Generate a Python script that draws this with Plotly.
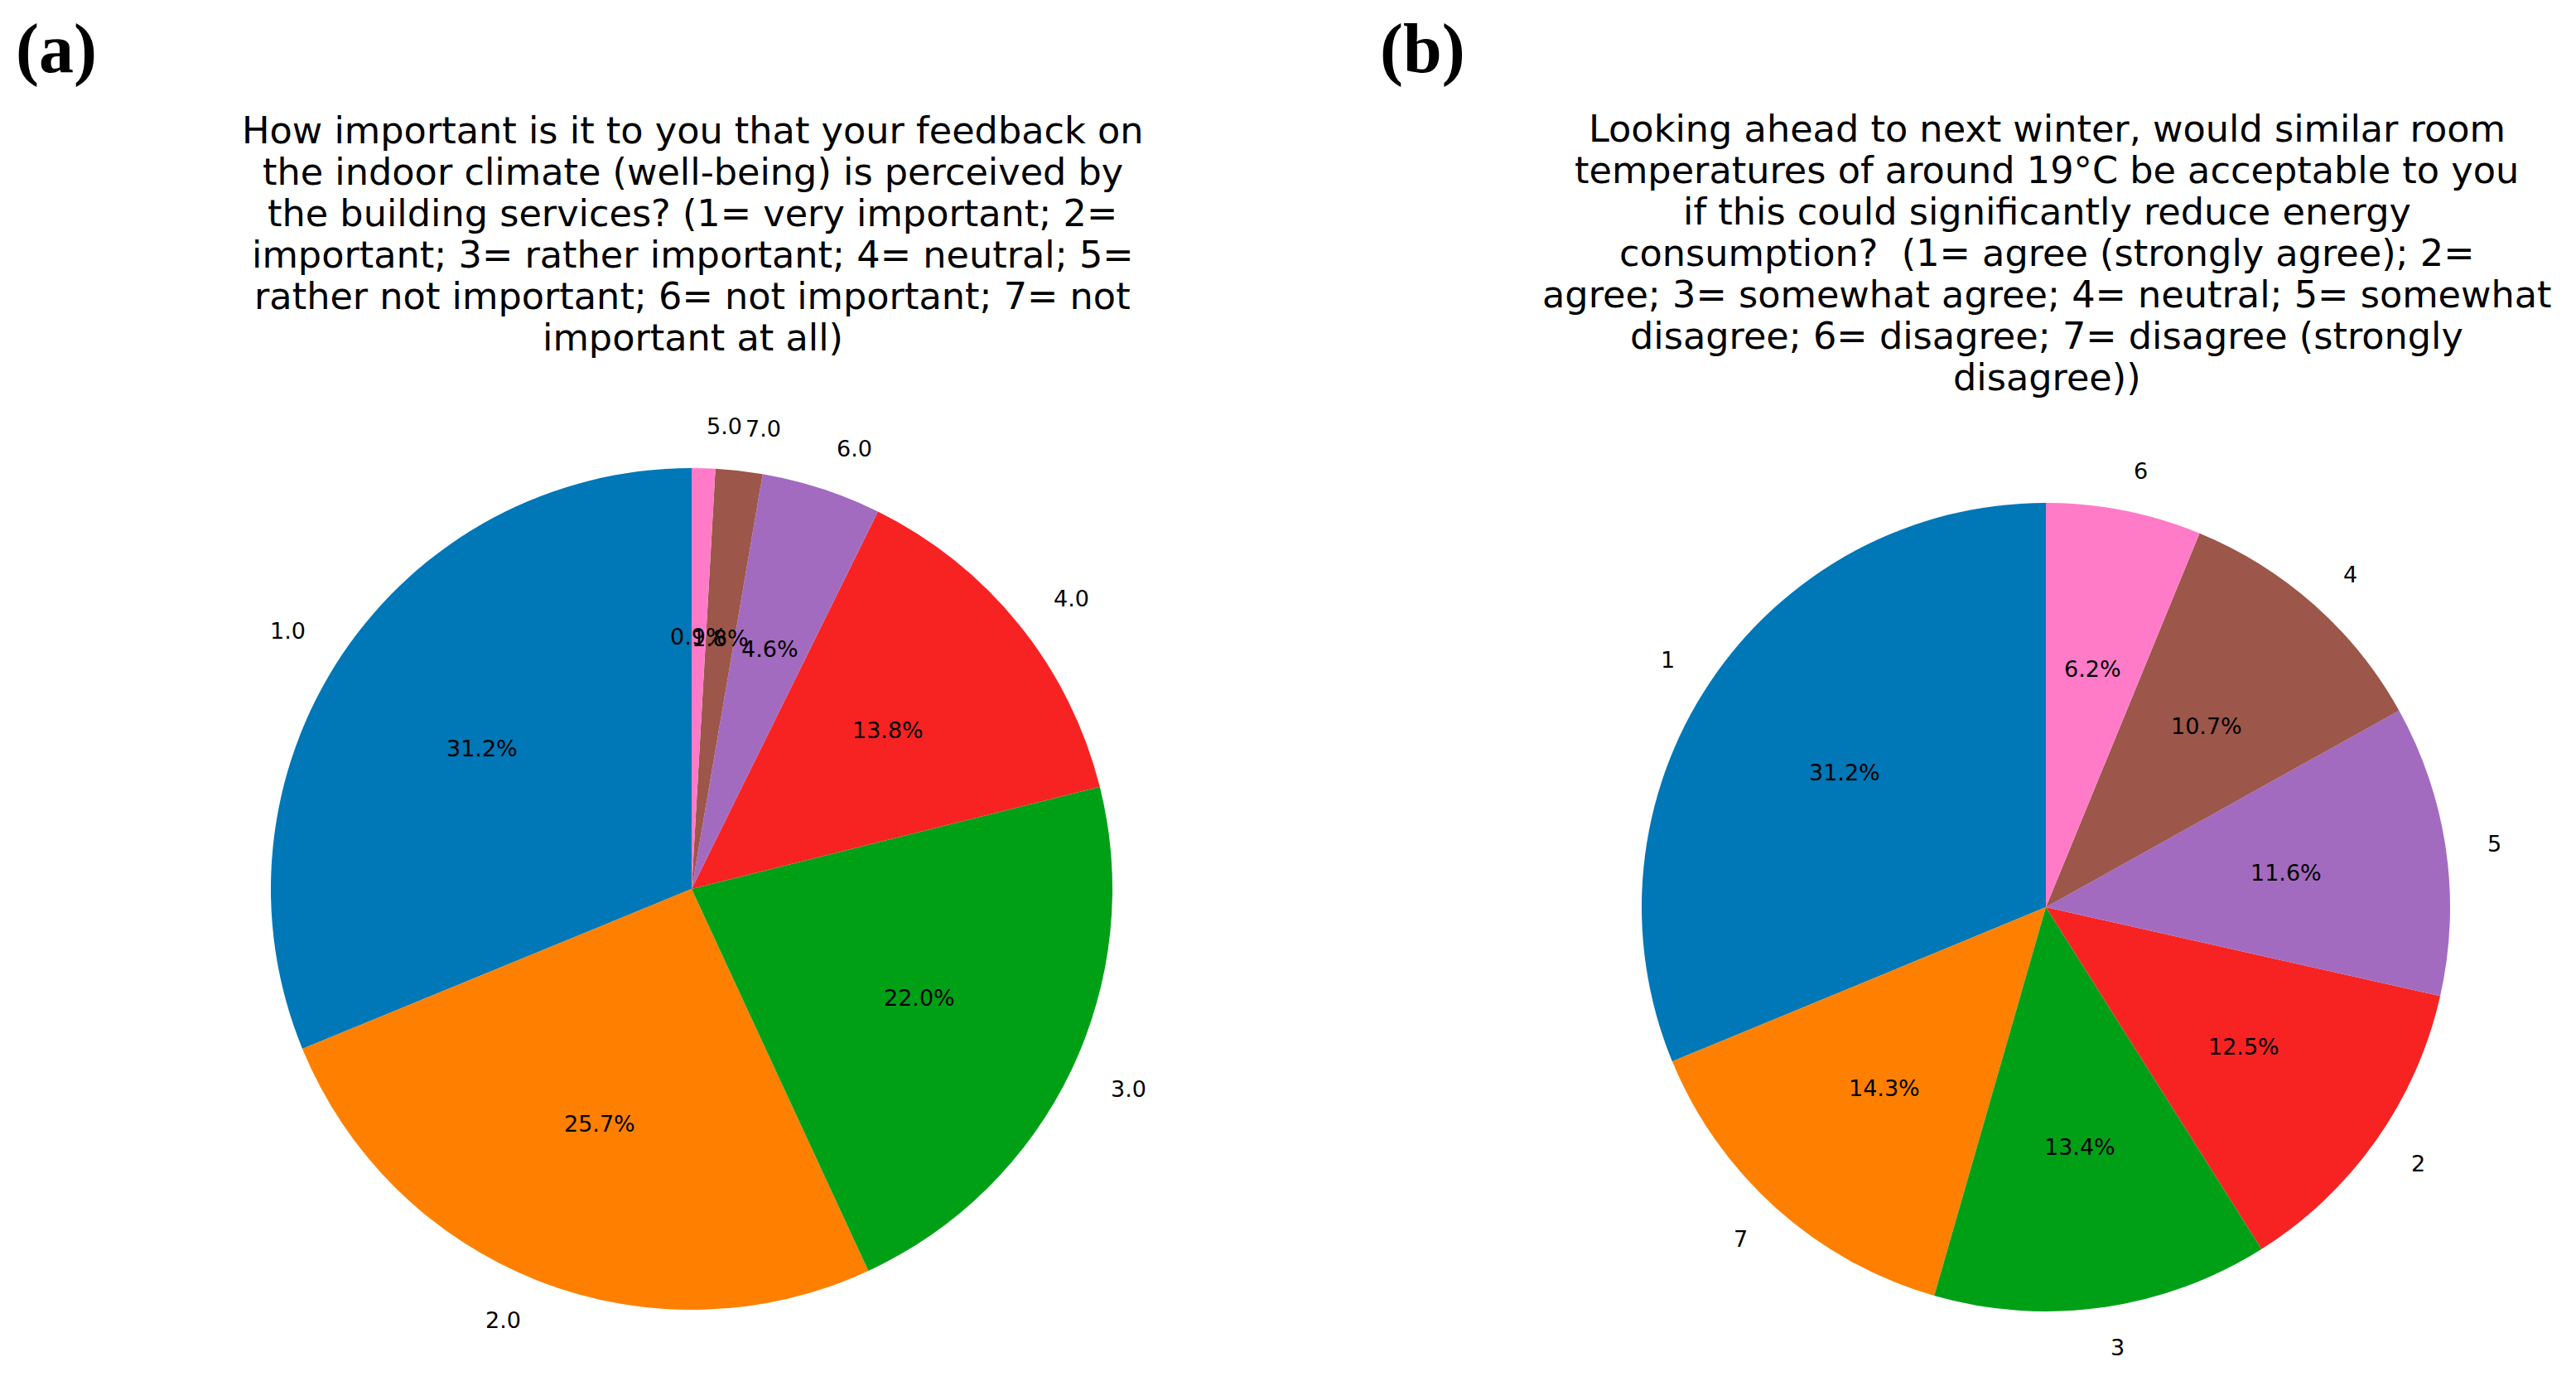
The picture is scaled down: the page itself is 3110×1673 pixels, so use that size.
import numpy as np
import plotly.graph_objects as go

W, H = 3110, 1673

# (a) importance of feedback being perceived
labels_a = ['1.0', '2.0', '3.0', '4.0', '6.0', '7.0', '5.0']
pct_a = [31.2, 25.7, 22.0, 13.8, 4.6, 1.8, 0.9]
title_a = [
    'How important is it to you that your feedback on',
    'the indoor climate (well-being) is perceived by',
    'the building services? (1= very important; 2=',
    'important; 3= rather important; 4= neutral; 5=',
    'rather not important; 6= not important; 7= not',
    'important at all)',
]

# (b) acceptance of ~19 degC next winter
labels_b = ['1', '7', '3', '2', '5', '4', '6']
pct_b = [31.2, 14.3, 13.4, 12.5, 11.6, 10.7, 6.2]
title_b = [
    'Looking ahead to next winter, would similar room',
    'temperatures of around 19°C be acceptable to you',
    'if this could significantly reduce energy',
    'consumption?  (1= agree (strongly agree); 2=',
    'agree; 3= somewhat agree; 4= neutral; 5= somewhat',
    'disagree; 6= disagree; 7= disagree (strongly',
    'disagree))',
]

# matplotlib-ish tab10 order, a bit more saturated like the figure
COLORS = ['#0077b6', '#ff8000', '#00a016', '#f72323',
          '#a36bc0', '#9c564a', '#ff7bc8']

FONT = 'DejaVu Sans'

# pie placement in pixels: centre x, centre y (from top), radius
PIE_A = (835, 1073, 508)
PIE_B = (2470, 1095, 488)


def domain(cx, cy, r):
    return dict(x=[(cx - r) / W, (cx + r) / W],
                y=[1 - (cy + r) / H, 1 - (cy - r) / H])


def slice_text(labels, values, cx, cy, r):
    # labels at 1.1 r, percentages at 0.6 r, starting at 12 o'clock, ccw
    anns = []
    total = sum(values)
    cum = np.cumsum([0] + list(values))
    for i, (lab, v) in enumerate(zip(labels, values)):
        th = np.radians(90 + 360 * (cum[i] + v / 2) / total)
        c, s = np.cos(th), np.sin(th)
        anns.append(dict(x=(cx + 1.1 * r * c) / W, y=1 - (cy - 1.1 * r * s) / H,
                         text=lab, xanchor='left' if c > 0 else 'right'))
        anns.append(dict(x=(cx + 0.6 * r * c) / W, y=1 - (cy - 0.6 * r * s) / H,
                         text=f'{v:.1f}%', xanchor='center'))
    for a in anns:
        a.update(xref='paper', yref='paper', yanchor='middle', showarrow=False,
                 font=dict(family=FONT, size=27, color='black'))
    return anns


def title_lines(lines, cx, y0, step=50):
    return [dict(x=cx / W, y=1 - (y0 + i * step) / H, text=t,
                 xref='paper', yref='paper', xanchor='center', yanchor='middle',
                 showarrow=False, font=dict(family=FONT, size=44.6, color='black'))
            for i, t in enumerate(lines)]


fig = go.Figure()
for labels, values, geo in [(labels_a, pct_a, PIE_A), (labels_b, pct_b, PIE_B)]:
    # plotly puts the first ccw slice just right of 12 o'clock; turn it so
    # the first slice starts at 12 o'clock like matplotlib's startangle=90
    fig.add_trace(go.Pie(
        labels=labels, values=values, sort=False,
        direction='counterclockwise',
        rotation=-360 * values[0] / sum(values),
        marker=dict(colors=COLORS, line=dict(width=0)),
        textinfo='none', hoverinfo='label+percent',
        domain=domain(*geo), showlegend=False,
    ))

annotations = []
annotations += slice_text(labels_a, pct_a, *PIE_A)
annotations += slice_text(labels_b, pct_b, *PIE_B)
annotations += title_lines(title_a, 836, 158)
annotations += title_lines(title_b, 2471, 156)
for txt, x in [('(a)', 68), ('(b)', 1717)]:
    annotations.append(dict(x=x / W, y=1 - 59 / H, text=f'<b>{txt}</b>',
                            xref='paper', yref='paper', xanchor='center',
                            yanchor='middle', showarrow=False,
                            font=dict(family='Liberation Serif', size=84,
                                      color='black')))

fig.update_layout(
    width=W, height=H,
    margin=dict(l=0, r=0, t=0, b=0),
    paper_bgcolor='white', plot_bgcolor='white',
    annotations=annotations,
)

fig.write_html("out.html", config={'displayModeBar': False},
               post_script="document.body.style.margin='0';")
